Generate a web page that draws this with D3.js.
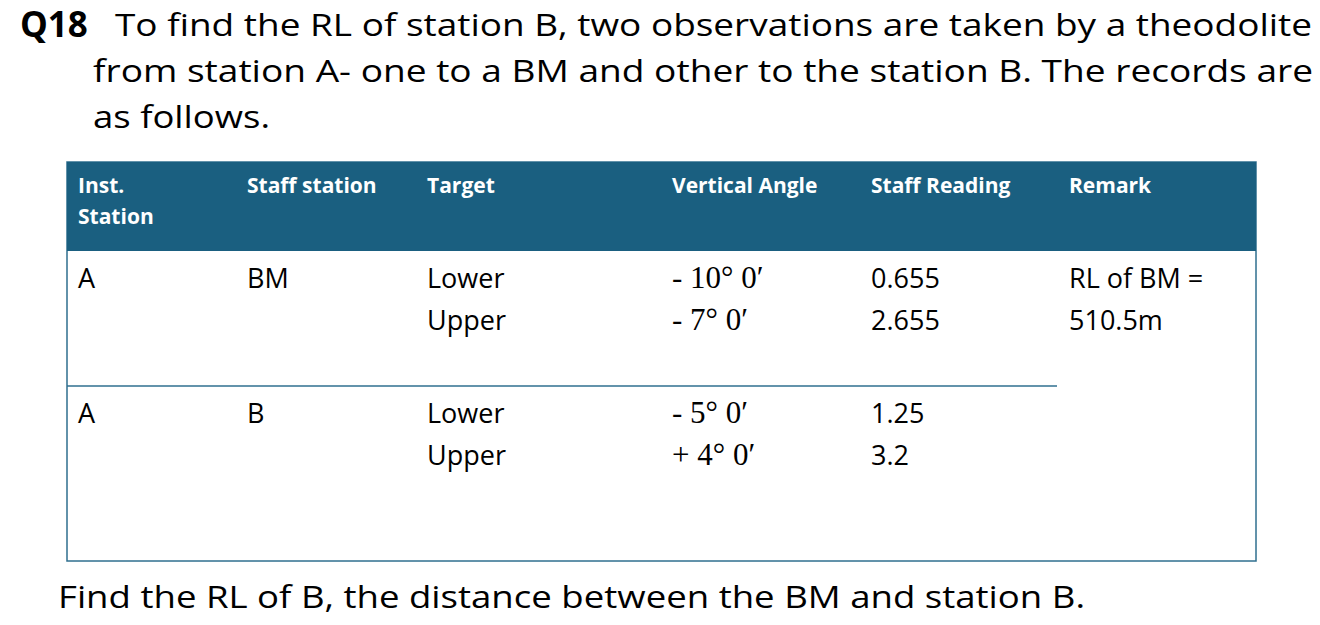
<!DOCTYPE html>
<html><head><meta charset="utf-8">
<script src="https://cdn.jsdelivr.net/npm/d3@7"></script>
<style>body{margin:0;background:#fff}text{font-family:"Open Sans",Lato,sans-serif}text.serif{font-family:"Liberation Serif","DejaVu Serif",serif}</style>
</head><body><div id="chart"></div>
<script>
// question text
const titleLines = [
  "To find the RL of station B, two observations are taken by a theodolite",
  "from station A- one to a BM and other to the station B. The records are",
  "as follows."
];
const footer = "Find the RL of B, the distance between the BM and station B.";

// table contents
const headers = [["Inst.", "Station"], ["Staff station"], ["Target"], ["Vertical Angle"], ["Staff Reading"], ["Remark"]];
const instStation = ["A", "A"];
const staffStation = ["BM", "B"];
const targets = [["Lower", "Upper"], ["Lower", "Upper"]];
const angles = [["- 10° 0′", "- 7° 0′"], ["- 5° 0′", "+ 4° 0′"]];
const readings = [["0.655", "2.655"], ["1.25", "3.2"]];
const remark = ["RL of BM =", "510.5m"];

const colX = [78, 247, 427, 672, 871, 1069];
const blue = "#1a5f80";

const svg = d3.select("#chart").append("svg").attr("width", 1320).attr("height", 625);

// title
svg.append("text").attr("x", 20).attr("y", 37).attr("font-size", 35).attr("font-weight", "bold").text("Q18");
svg.selectAll("text.title").data(titleLines).enter().append("text")
  .attr("class", "title")
  .attr("x", (d, i) => i === 0 ? 115 : 93)
  .attr("y", (d, i) => 36 + i * 46)
  .attr("font-size", 31)
  .attr("lengthAdjust", "spacingAndGlyphs")
  .attr("textLength", (d, i) => [1197, 1220, 177][i])
  .text(d => d);

// table frame
svg.append("rect").attr("x", 67).attr("y", 162).attr("width", 1189).attr("height", 399)
  .attr("fill", "none").attr("stroke", "#2f6f8f").attr("stroke-width", 1.5);
svg.append("rect").attr("x", 67).attr("y", 162).attr("width", 1189).attr("height", 89).attr("fill", blue);
svg.append("line").attr("x1", 67).attr("x2", 1057).attr("y1", 386).attr("y2", 386)
  .attr("stroke", "#2f6f8f").attr("stroke-width", 1.5);

// header
headers.forEach((h, c) => {
  h.forEach((t, k) => {
    svg.append("text").attr("x", colX[c]).attr("y", 193 + k * 31)
      .attr("font-size", 21).attr("font-weight", "bold").attr("fill", "#fff").text(t);
  });
});

// body rows
const rowY = [288, 423];
const cell = (x, y, t, serif) => svg.append("text").attr("class", serif ? "serif" : null)
  .attr("x", x).attr("y", y).attr("font-size", serif ? 31 : 27).text(t);
rowY.forEach((y, r) => {
  cell(colX[0], y, instStation[r]);
  cell(colX[1], y, staffStation[r]);
  targets[r].forEach((t, k) => cell(colX[2], y + k * 42, t));
  angles[r].forEach((t, k) => cell(colX[3], y + k * 42, t, true));
  readings[r].forEach((t, k) => cell(colX[4], y + k * 42, t));
});
remark.forEach((t, k) => cell(colX[5], 288 + k * 42, t));

svg.append("text").attr("x", 58).attr("y", 608).attr("font-size", 31)
  .attr("lengthAdjust", "spacingAndGlyphs").attr("textLength", 1027).text(footer);
</script></body></html>
